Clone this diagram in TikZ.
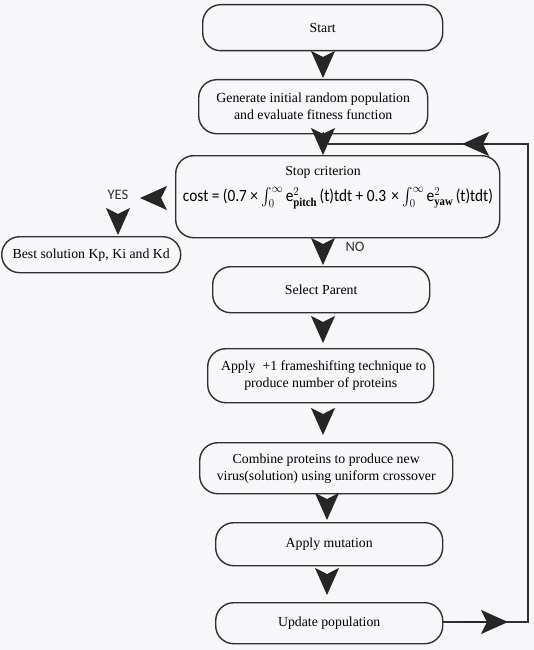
\documentclass[tikz,border=0pt]{standalone}
\usepackage{amsmath}
\usepackage{graphicx}
\usepackage{fontspec}
\setmainfont{Liberation Serif}
\newfontfamily\calib{Carlito}
\usetikzlibrary{arrows.meta}
\definecolor{bg}{HTML}{F7F7FA}
\definecolor{ln}{HTML}{303030}
\definecolor{tipc}{HTML}{262626}
\tikzset{
  box/.style={draw=ln, line width=1.4pt, rounded corners=18pt, inner sep=0pt,
    anchor=north west, align=center, font=\fontsize{13.8}{17}\selectfont},
  bigtip/.style={draw=tipc, fill=tipc, line width=1pt,
    -{Stealth[length=27pt, width=24pt, inset=6pt]}},
  loopline/.style={draw=ln, line width=1.3pt},
  lbl/.style={font=\calib\fontsize{14.5}{16}\selectfont, text=ln, inner sep=0pt}
}
\begin{document}
\begin{tikzpicture}[x=1pt,y=-1pt]
\fill[bg] (0,0) rectangle (534,650);
\useasboundingbox (0,0) rectangle (534,650);

\node[box, minimum width=240pt, minimum height=46pt] (start) at (202,4) {Start};
\node[box, minimum width=229pt, minimum height=54pt] (gen) at (198,79)
  {Generate initial random population\\ and evaluate fitness function};
\node[box, minimum width=324pt, minimum height=82pt] (stop) at (175,155) {};
\node[font=\fontsize{13.8}{17}\selectfont, inner sep=0pt] (stoptxt) at (323,172) {Stop criterion};
\node[inner sep=0pt] (cost) at (338,198) {\resizebox*{310pt}{22pt}{\calib\fontsize{17}{20}\selectfont cost = (0.7 × $\textstyle\int_0^\infty$\,e$^{2}_{\text{\rmfamily\bfseries pitch}}$\,(t)tdt + 0.3\,\,× $\textstyle\int_0^\infty$\,e$^{2}_{\text{\rmfamily\bfseries yaw}}$\,(t)tdt)}};
\node[box, minimum width=179pt, minimum height=36pt] (best) at (1,236) {Best solution Kp, Ki and Kd};
\node[box, minimum width=217pt, minimum height=46pt] (sel) at (212,266) {Select Parent};
\node[box, minimum width=226pt, minimum height=54pt] (app) at (207,348)
  {\hspace*{6pt}Apply\ \ +1 frameshifting technique to\\ produce number of proteins};
\node[box, minimum width=253pt, minimum height=51pt] (comb) at (199,442)
  {Combine proteins to produce new\\ virus(solution) using uniform crossover};
\node[box, minimum width=227pt, minimum height=43pt] (mut) at (215,522) {Apply mutation};
\node[box, minimum width=227pt, minimum height=41pt] (upd) at (215,602) {Update population};

\coordinate (col) at (323,0);
\coordinate (col2) at (327,0);

\draw[bigtip, shorten <=7pt, shorten >=1pt] (start.south -| col) -- (gen.north -| col);
\draw[bigtip, shorten <=2pt] (gen.south -| col) -- (stop.north -| col);
\draw[bigtip, shorten <=8pt, shorten >=1pt] (stop.south -| col) -- (sel.north -| col);
\draw[bigtip, shorten <=11pt, shorten >=5pt] (sel.south -| col) -- (app.north -| col);
\draw[bigtip, shorten <=13pt, shorten >=7pt] (app.south -| col) -- (comb.north -| col);
\draw[bigtip, shorten <=7pt, shorten >=2pt] (comb.south -| col2) -- (mut.north -| col2);
\draw[bigtip, shorten <=10pt, shorten >=7pt] (mut.south -| col2) -- (upd.north -| col2);

\node[lbl] (no) at (355,247) {NO};
\node[lbl] (yes) at (118,195) {YES};
\coordinate (yestip) at (140,198);
\draw[bigtip, shorten <=15pt] (stop.west |- yestip) -- (yestip);
\draw[bigtip, shorten <=15pt, shorten >=1pt] (yes.south) -- (best.north -| yes);

\coordinate (rb) at (528,622);
\coordinate (rt) at (528,144);
\coordinate (loopin) at (328,144);
\coordinate (rtip) at (508,622);
\coordinate (ltip) at (462,144);
\draw[loopline] (upd.east |- rb) -- (rb) -- (rt) -- (loopin);
\draw[bigtip, line width=1.3pt, shorten <=20pt] (upd.east |- rb) -- (rtip);
\draw[bigtip, line width=1.3pt, shorten <=40pt] (rt) -- (ltip);
\end{tikzpicture}
\end{document}
